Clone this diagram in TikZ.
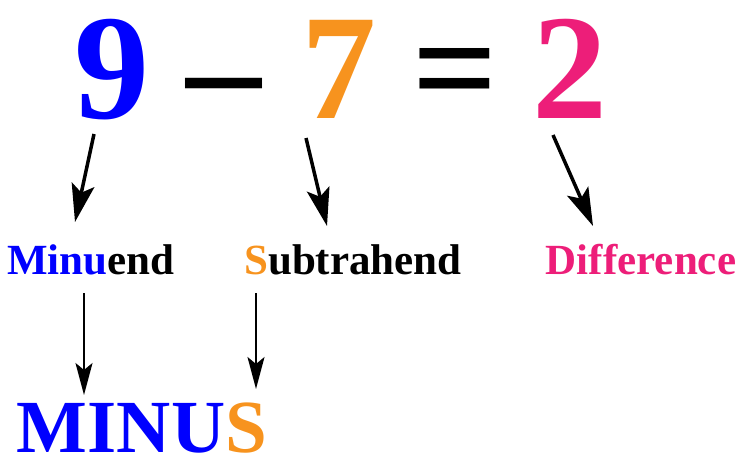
\documentclass[tikz,border=0pt]{standalone}
\usepackage{fontspec}
\setmainfont{Liberation Serif}
\usetikzlibrary{arrows.meta}
\definecolor{cblue}{RGB}{0,0,255}
\definecolor{corange}{RGB}{247,147,30}
\definecolor{cpink}{RGB}{237,30,121}
\begin{document}
\begin{tikzpicture}[x=1pt,y=-1pt,
  big/.style={inner sep=0,anchor=base,font=\fontsize{150}{150}\selectfont\bfseries},
  termlabel/.style={inner sep=0,anchor=base,font=\fontsize{43}{43}\selectfont\bfseries},
  word/.style={inner sep=0,anchor=base,font=\fontsize{75}{75}\selectfont\bfseries},
  toparrow/.style={line width=3.5pt,-{Stealth[length=38pt,width=23pt,inset=8pt]}},
  lowarrow/.style={line width=2pt,-{Stealth[length=32pt,width=17pt,inset=7pt]}}]
\useasboundingbox (0,0) rectangle (745,460);
% equation
\node[big,text=cblue] (nine) at (111.5,118) {9};
\node[big] (minus) at (224,118) {–};
\node[big,text=corange] (seven) at (338.5,118) {7};
\node[big] (equals) at (455,118) {=};
\node[big,text=cpink] (two) at (569.5,118) {2};
% labels
\node[termlabel] (minuend) at (91,274) {\textcolor{cblue}{Minu}end};
\node[termlabel] (subtrahend) at (353,274) {\textcolor{corange}{S}ubtrahend};
\node[termlabel,text=cpink] (difference) at (641,274) {Difference};
\node[word] (word) at (142,452) {\textcolor{cblue}{MINU}\textcolor{corange}{S}};
% arrow end points
\coordinate (a1s) at (94,134);  \coordinate (a1e) at (75,222);
\coordinate (a2s) at (306,138); \coordinate (a2e) at (327,226);
\coordinate (a3s) at (553,135); \coordinate (a3e) at (593,226);
\coordinate (a4s) at (84,293);  \coordinate (a4e) at (84,395);
\coordinate (a5s) at (256,293); \coordinate (a5e) at (256,389);
\draw[toparrow] (a1s) -- (a1e);
\draw[toparrow] (a2s) -- (a2e);
\draw[toparrow] (a3s) -- (a3e);
\draw[lowarrow] (a4s) -- (a4e);
\draw[lowarrow] (a5s) -- (a5e);
\end{tikzpicture}
\end{document}
